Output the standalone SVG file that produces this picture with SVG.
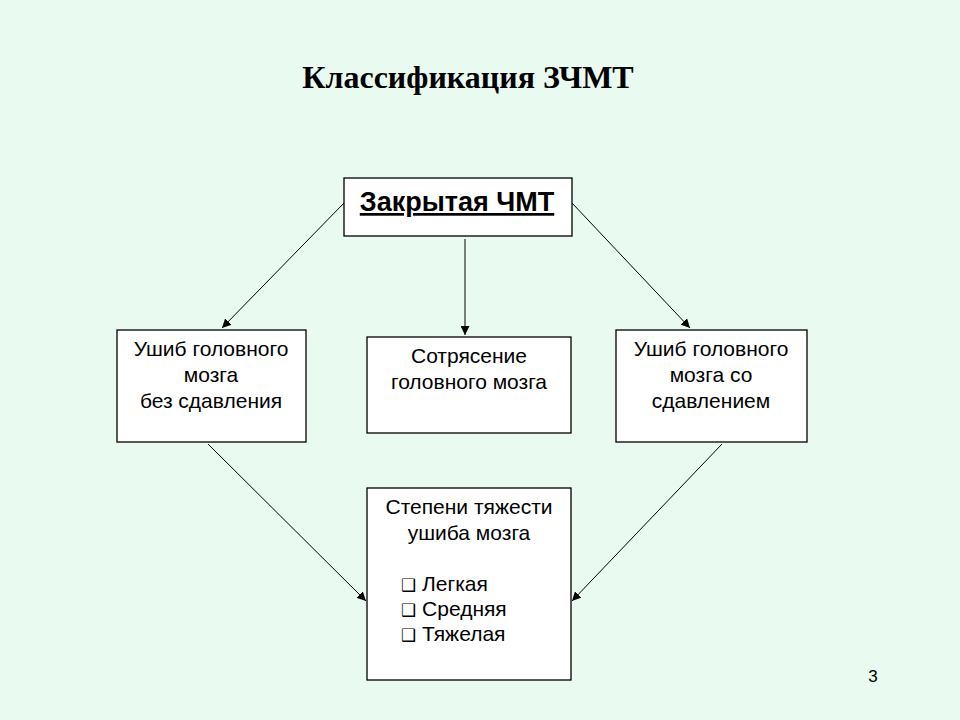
<svg xmlns="http://www.w3.org/2000/svg" width="960" height="720" viewBox="0 0 960 720">
<style>
.box{fill:#fff;stroke:#000;stroke-width:1.3}
.t{font-family:"Liberation Sans",Arial,sans-serif;font-size:21px;text-anchor:middle}
.l{font-family:"Liberation Sans",Arial,sans-serif;font-size:21px}
.b{font-family:"DejaVu Sans",sans-serif;font-size:17px;font-weight:bold}
.c{stroke:#000;stroke-width:1;fill:none;marker-end:url(#a)}
</style>
<defs><marker id="a" viewBox="0 0 10 10" refX="10" refY="5" markerWidth="9" markerHeight="9" orient="auto" markerUnits="userSpaceOnUse"><path d="M0,0L10,5L0,10z" fill="#000"/></marker></defs>
<rect width="960" height="720" fill="#e9fbf1"/>
<text x="468" y="88" font-family="Liberation Serif,serif" font-size="32" font-weight="bold" text-anchor="middle">Классификация ЗЧМТ</text>
<g id="connectors">
<line class="c" x1="344" y1="203" x2="222" y2="328"/>
<line class="c" x1="465" y1="239" x2="465" y2="335"/>
<line class="c" x1="572" y1="203" x2="690" y2="328"/>
<line class="c" x1="208" y1="444" x2="366" y2="601"/>
<line class="c" x1="722" y1="444" x2="572" y2="601"/>
</g>
<g id="top"><rect class="box" x="344" y="178" width="228" height="58"/>
<text class="t" x="457" y="211" style="font-size:27px;font-weight:bold;text-decoration:underline">Закрытая ЧМТ</text></g>
<g id="left"><rect class="box" x="117" y="330" width="189" height="112"/>
<text class="t" x="211" y="356">Ушиб головного</text><text class="t" x="211" y="382">мозга</text><text class="t" x="211" y="408">без сдавления</text></g>
<g id="mid"><rect class="box" x="367" y="337" width="204" height="96"/>
<text class="t" x="469" y="363">Сотрясение</text><text class="t" x="469" y="389">головного мозга</text></g>
<g id="right"><rect class="box" x="616" y="330" width="191" height="112"/>
<text class="t" x="711" y="356">Ушиб головного</text><text class="t" x="711" y="382">мозга со</text><text class="t" x="711" y="408">сдавлением</text></g>
<g id="bottom"><rect class="box" x="367" y="488" width="204" height="192"/>
<text class="t" x="469" y="514">Степени тяжести</text><text class="t" x="469" y="540">ушиба мозга</text>
<text class="l" x="401" y="591"><tspan class="b">❑</tspan> Легкая</text>
<text class="l" x="401" y="616"><tspan class="b">❑</tspan> Средняя</text>
<text class="l" x="401" y="641"><tspan class="b">❑</tspan> Тяжелая</text></g>
<text x="873" y="682" font-family="Liberation Sans,sans-serif" font-size="17" text-anchor="middle">3</text>
</svg>
